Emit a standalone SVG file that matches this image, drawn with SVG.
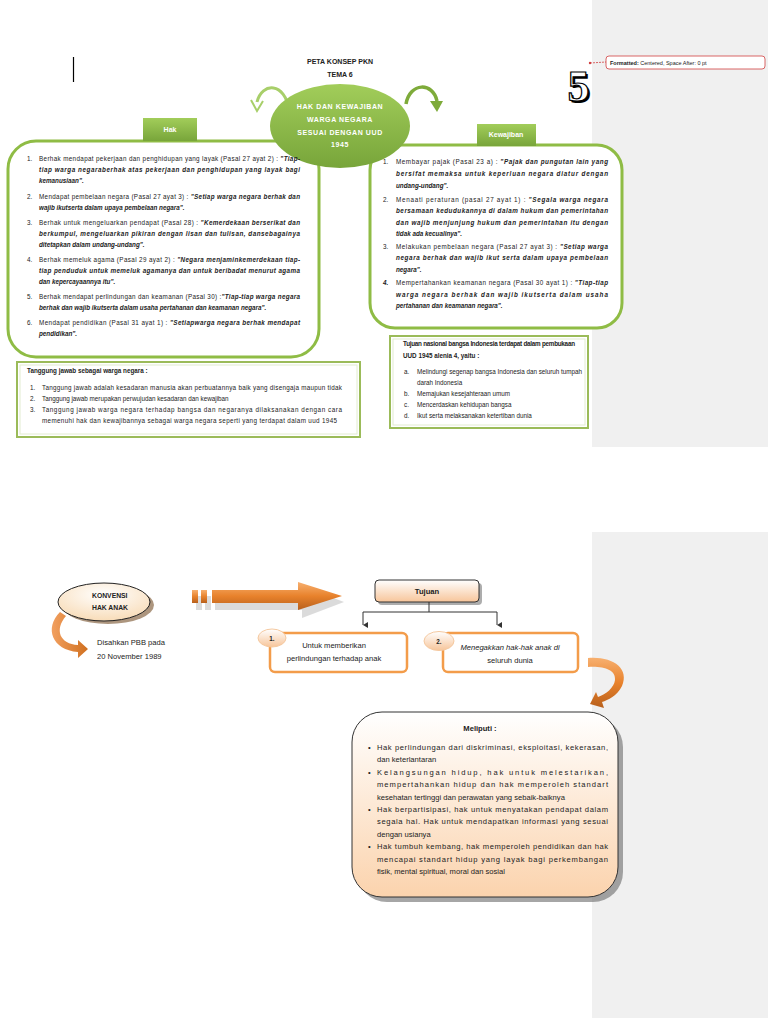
<svg xmlns="http://www.w3.org/2000/svg" width="768" height="1024" viewBox="0 0 768 1024">
<defs>
<style>
text{font-family:"Liberation Sans",Arial,sans-serif;fill:#222}
.t{font-size:6.3px}
.q{font-weight:bold;font-style:italic}
.w{fill:#fff;font-weight:bold}
.h{font-size:7.5px;font-weight:bold}
.m{font-size:7px}
.ml{font-size:7.6px}
.box{fill:#fff;stroke:#8fbc45;stroke-width:3}
.gbox{fill:#fff;stroke:#9bbb59;stroke-width:2}
.obox{fill:#fff;stroke:#f39c4a;stroke-width:2.5}
</style>
<linearGradient id="gg" x1="0" y1="0" x2="0" y2="1"><stop offset="0" stop-color="#a2cd5a"/><stop offset="1" stop-color="#78a53a"/></linearGradient>
<linearGradient id="og" x1="0" y1="0" x2="0" y2="1"><stop offset="0" stop-color="#f7b070"/><stop offset="0.5" stop-color="#e8822c"/><stop offset="1" stop-color="#b8601c"/></linearGradient>
<linearGradient id="oh" x1="0" y1="0" x2="1" y2="0"><stop offset="0" stop-color="#f2a060"/><stop offset="1" stop-color="#d0701f"/></linearGradient>
<linearGradient id="pg" x1="0" y1="0" x2="0" y2="1"><stop offset="0" stop-color="#fff"/><stop offset="1" stop-color="#fbd3ad"/></linearGradient>
<linearGradient id="tg" x1="0" y1="0" x2="0" y2="1"><stop offset="0" stop-color="#fff"/><stop offset="1" stop-color="#f7c59a"/></linearGradient>
<radialGradient id="cg" cx="0.5" cy="0.3" r="0.7"><stop offset="0" stop-color="#fff"/><stop offset="1" stop-color="#f8dcb8"/></radialGradient>
<marker id="ah" markerWidth="6" markerHeight="6" refX="3" refY="5" orient="auto" markerUnits="userSpaceOnUse"><path d="M0,0 L6,0 L3,5 z" fill="#333"/></marker>
</defs>
<rect width="768" height="1024" fill="#fff"/>
<rect x="592" y="0" width="176" height="447" fill="#f0f0f0"/>
<rect x="592" y="532" width="176" height="486" fill="#f0f0f0"/>

<g id="header">
<line x1="73.5" y1="57" x2="73.5" y2="82" stroke="#000" stroke-width="1.2"/>
<text x="340" y="64" class="h" text-anchor="middle" style="font-size:7px">PETA KONSEP PKN</text>
<text x="340" y="77" class="h" text-anchor="middle" style="font-size:7px">TEMA 6</text>
<text x="580.5" y="102.5" text-anchor="middle" style="font-family:'Liberation Serif',serif;font-size:44px;fill:#000;font-weight:bold">5</text>
<text x="578.5" y="100.5" text-anchor="middle" style="font-family:'Liberation Serif',serif;font-size:44px;fill:#fff;stroke:#000;stroke-width:1.2;font-weight:bold">5</text>
</g>

<g id="comment">
<line x1="590" y1="63" x2="606" y2="62" stroke="#d04040" stroke-width="0.8" stroke-dasharray="2,1"/>
<circle cx="590" cy="63" r="1.2" fill="#d04040"/>
<rect x="606" y="56" width="159" height="13" rx="3" fill="#fff" stroke="#d04040" stroke-width="0.8"/>
<text x="610" y="64.5" style="font-size:5.5px"><tspan font-weight="bold">Formatted:</tspan> Centered, Space After:  0 pt</text>
</g>

<g id="curl-arrows">
<path d="M289 110 C285 82, 262 82, 257 102" fill="none" stroke="#a8cf6a" stroke-width="3"/>
<path d="M251 100 L257 111 L263 101" fill="none" stroke="#a8cf6a" stroke-width="2"/>
<path d="M406 104 C410 82, 433 82, 437 101" fill="none" stroke="#7eab3a" stroke-width="3.5"/>
<path d="M430 101 L437 112 L443 101 z" fill="#7eab3a"/>
</g>

<g id="hak-box">
<rect x="8" y="141" width="311" height="216" rx="28" class="box"/>
</g>
<g id="kewajiban-box">
<rect x="370" y="145" width="252" height="183" rx="25" class="box"/>
</g>

<g id="hak-tab">
<rect x="143" y="118" width="54" height="23" fill="url(#gg)"/>
<text x="170" y="132" class="w" text-anchor="middle" style="font-size:7px">Hak</text>
</g>
<g id="kewajiban-tab">
<rect x="477" y="124" width="59" height="22" fill="url(#gg)"/>
<text x="506" y="137" class="w" text-anchor="middle" style="font-size:7px">Kewajiban</text>
</g>

<g id="center-oval">
<ellipse cx="340" cy="126" rx="70" ry="42" fill="url(#gg)"/>
<text x="340" y="109" class="w" text-anchor="middle" style="font-size:7px;letter-spacing:0.6px">HAK DAN KEWAJIBAN</text>
<text x="340" y="122" class="w" text-anchor="middle" style="font-size:7px;letter-spacing:0.6px">WARGA NEGARA</text>
<text x="340" y="135" class="w" text-anchor="middle" style="font-size:7px;letter-spacing:0.6px">SESUAI DENGAN UUD</text>
<text x="340" y="147" class="w" text-anchor="middle" style="font-size:7px;letter-spacing:0.6px">1945</text>
</g>

<g id="hak-text" class="t">
<text x="27" y="161" class="t">1.</text>
<text x="39" y="161" class="t" textLength="261" lengthAdjust="spacing">Berhak mendapat pekerjaan dan penghidupan yang layak (Pasal 27 ayat 2) : <tspan class="q">"Tiap-</tspan></text>
<text x="39" y="172" class="t q" textLength="261" lengthAdjust="spacing">tiap warga negaraberhak atas pekerjaan dan penghidupan yang layak bagi</text>
<text x="39" y="183" class="t q">kemanusiaan".</text>
<text x="27" y="199" class="t">2.</text>
<text x="39" y="199" class="t" textLength="261" lengthAdjust="spacing">Mendapat pembelaan negara (Pasal 27 ayat 3) : <tspan class="q">"Setiap warga negara berhak dan</tspan></text>
<text x="39" y="210" class="t q">wajib ikutserta dalam upaya pembelaan negara".</text>
<text x="27" y="225" class="t">3.</text>
<text x="39" y="225" class="t" textLength="261" lengthAdjust="spacing">Berhak untuk mengeluarkan pendapat (Pasal 28) : <tspan class="q">"Kemerdekaan berserikat dan</tspan></text>
<text x="39" y="236" class="t q" textLength="261" lengthAdjust="spacing">berkumpul, mengeluarkan pikiran dengan lisan dan tulisan, dansebagainya</text>
<text x="39" y="247" class="t q">ditetapkan dalam undang-undang".</text>
<text x="27" y="262" class="t">4.</text>
<text x="39" y="262" class="t" textLength="261" lengthAdjust="spacing">Berhak memeluk agama (Pasal 29 ayat 2) : <tspan class="q">"Negara menjaminkemerdekaan tiap-</tspan></text>
<text x="39" y="273" class="t q" textLength="261" lengthAdjust="spacing">tiap penduduk untuk memeluk agamanya dan untuk beribadat menurut agama</text>
<text x="39" y="284" class="t q">dan kepercayaannya itu".</text>
<text x="27" y="299" class="t">5.</text>
<text x="39" y="299" class="t" textLength="261" lengthAdjust="spacing">Berhak mendapat perlindungan dan keamanan (Pasal 30) :<tspan class="q">"Tiap-tiap warga negara</tspan></text>
<text x="39" y="310" class="t q">berhak dan wajib ikutserta dalam usaha pertahanan dan keamanan negara".</text>
<text x="27" y="325" class="t">6.</text>
<text x="39" y="325" class="t" textLength="261" lengthAdjust="spacing">Mendapat pendidikan (Pasal 31 ayat 1) : <tspan class="q">"Setiapwarga negara berhak mendapat</tspan></text>
<text x="39" y="336" class="t q">pendidikan".</text>
</g>

<g id="kewajiban-text">
<text x="383" y="164" class="t">1.</text>
<text x="396" y="164" class="t" textLength="212" lengthAdjust="spacing">Membayar pajak (Pasal 23 a) : <tspan class="q">"Pajak dan pungutan lain yang</tspan></text>
<text x="396" y="176" class="t q" textLength="212" lengthAdjust="spacing">bersifat memaksa untuk keperluan negara diatur dengan</text>
<text x="396" y="188" class="t q">undang-undang".</text>
<text x="383" y="202" class="t">2.</text>
<text x="396" y="202" class="t" textLength="212" lengthAdjust="spacing">Menaati peraturan (pasal 27 ayat 1) : <tspan class="q">"Segala warga negara</tspan></text>
<text x="396" y="213" class="t q" textLength="212" lengthAdjust="spacing">bersamaan kedudukannya di dalam hukum dan pemerintahan</text>
<text x="396" y="225" class="t q" textLength="212" lengthAdjust="spacing">dan wajib menjunjung hukum dan pemerintahan itu dengan</text>
<text x="396" y="236" class="t q">tidak ada kecualinya".</text>
<text x="383" y="249" class="t">3.</text>
<text x="396" y="249" class="t" textLength="212" lengthAdjust="spacing">Melakukan pembelaan negara (Pasal 27 ayat 3) : <tspan class="q">"Setiap warga</tspan></text>
<text x="396" y="260" class="t q" textLength="212" lengthAdjust="spacing">negara berhak dan wajib ikut serta dalam upaya pembelaan</text>
<text x="396" y="272" class="t q">negara".</text>
<text x="383" y="285" class="t q">4.</text>
<text x="396" y="285" class="t" textLength="212" lengthAdjust="spacing">Mempertahankan keamanan negara (Pasal 30 ayat 1) : <tspan class="q">"Tiap-tiap</tspan></text>
<text x="396" y="297" class="t q" textLength="212" lengthAdjust="spacing">warga negara berhak dan wajib ikutserta dalam usaha</text>
<text x="396" y="308" class="t q">pertahanan dan keamanan negara".</text>
</g>

<g id="tanggung-jawab">
<rect x="17" y="362" width="343" height="75" class="gbox"/>
<rect x="20" y="365" width="337" height="69" fill="none" stroke="#e2ecd0" stroke-width="1"/>
<text x="27" y="373" class="t" font-weight="bold">Tanggung jawab sebagai warga negara :</text>
<text x="30" y="390" class="t">1.</text>
<text x="42" y="390" class="t" textLength="300" lengthAdjust="spacing">Tanggung jawab adalah kesadaran manusia akan perbuatannya baik yang disengaja maupun tidak</text>
<text x="30" y="401" class="t">2.</text>
<text x="42" y="401" class="t">Tanggung jawab merupakan perwujudan kesadaran dan kewajiban</text>
<text x="30" y="412" class="t">3.</text>
<text x="42" y="412" class="t" textLength="300" lengthAdjust="spacing">Tanggung jawab warga negara terhadap bangsa dan negaranya dilaksanakan dengan cara</text>
<text x="42" y="423" class="t" textLength="295" lengthAdjust="spacing">memenuhi hak dan kewajibannya sebagai warga negara seperti yang terdapat dalam uud 1945</text>
</g>

<g id="tujuan-nasional">
<rect x="390" y="336" width="198" height="92" class="gbox"/>
<rect x="393" y="339" width="192" height="86" fill="none" stroke="#e2ecd0" stroke-width="1"/>
<text x="403" y="346" class="t" font-weight="bold" textLength="172" lengthAdjust="spacing">Tujuan nasional bangsa Indonesia terdapat dalam pembukaan</text>
<text x="403" y="358" class="t" font-weight="bold">UUD 1945 alenia 4, yaitu :</text>
<text x="404" y="374" class="t">a.</text>
<text x="417" y="374" class="t" textLength="165" lengthAdjust="spacing">Melindungi segenap bangsa Indonesia dan seluruh tumpah</text>
<text x="417" y="385" class="t">darah Indonesia</text>
<text x="404" y="396" class="t">b.</text>
<text x="417" y="396" class="t">Memajukan kesejahteraan umum</text>
<text x="404" y="407" class="t">c.</text>
<text x="417" y="407" class="t">Mencerdaskan kehidupan bangsa</text>
<text x="404" y="418" class="t">d.</text>
<text x="417" y="418" class="t">Ikut serta melaksanakan ketertiban dunia</text>
</g>

<g id="konvensi">
<ellipse cx="108" cy="605" rx="46" ry="19" fill="#8a6a48" opacity="0.7"/>
<ellipse cx="104" cy="602" rx="46" ry="19" fill="url(#cg)" stroke="#222" stroke-width="1"/>
<text x="92" y="598" class="m" font-weight="bold" style="font-size:6.8px">KONVENSI</text>
<text x="92" y="610" class="m" font-weight="bold" style="font-size:6.8px">HAK ANAK</text>
</g>

<g id="disahkan">
<text x="97" y="645" class="ml">Disahkan PBB pada</text>
<text x="97" y="659" class="ml">20 November 1989</text>
</g>

<g id="tujuan">
<rect x="378" y="583" width="104" height="22" rx="4" fill="#777" opacity="0.6"/>
<rect x="375" y="580" width="104" height="22" rx="4" fill="url(#tg)" stroke="#333" stroke-width="1"/>
<text x="427" y="593.5" class="m" font-weight="bold" text-anchor="middle" style="font-size:7.6px">Tujuan</text>
</g>

<g id="tujuan-1">
<rect x="270" y="633" width="137" height="39" rx="5" class="obox"/>
<ellipse cx="272" cy="638" rx="14" ry="9" fill="url(#tg)" stroke="#f5c9a0" stroke-width="1"/>
<text x="272" y="641" class="t" font-weight="bold" text-anchor="middle">1.</text>
<text x="334" y="648" class="ml" text-anchor="middle">Untuk memberikan</text>
<text x="334" y="661" class="ml" text-anchor="middle">perlindungan terhadap anak</text>
</g>

<g id="tujuan-2">
<rect x="443" y="633" width="135" height="39" rx="5" class="obox"/>
<ellipse cx="439" cy="641" rx="15" ry="9.5" fill="url(#tg)" stroke="#f5c9a0" stroke-width="1"/>
<text x="439" y="644" class="t" font-weight="bold" text-anchor="middle">2.</text>
<text x="510" y="650" class="ml" text-anchor="middle" font-style="italic">Menegakkan hak-hak anak di</text>
<text x="510" y="663" class="ml" text-anchor="middle">seluruh dunia</text>
</g>

<g id="meliputi">
<rect x="357" y="717" width="266" height="185" rx="30" fill="#6a6a6a" opacity="0.6"/>
<rect x="352" y="712" width="266" height="185" rx="30" fill="url(#pg)" stroke="#333" stroke-width="1"/>
<text x="480" y="731" class="ml" font-weight="bold" text-anchor="middle">Meliputi :</text>
<g class="ml">
<text x="368" y="750">•</text>
<text x="377" y="750" class="ml" textLength="231" lengthAdjust="spacing">Hak perlindungan dari diskriminasi, eksploitasi, kekerasan,</text>
<text x="377" y="762" class="ml">dan keterlantaran</text>
<text x="368" y="775">•</text>
<text x="377" y="775" class="ml" textLength="231" lengthAdjust="spacing">Kelangsungan hidup, hak untuk melestarikan,</text>
<text x="377" y="787" class="ml" textLength="231" lengthAdjust="spacing">mempertahankan hidup dan hak memperoleh standart</text>
<text x="377" y="800" class="ml">kesehatan tertinggi dan perawatan yang sebaik-baiknya</text>
<text x="368" y="812">•</text>
<text x="377" y="812" class="ml" textLength="231" lengthAdjust="spacing">Hak berpartisipasi, hak untuk menyatakan pendapat dalam</text>
<text x="377" y="824" class="ml" textLength="231" lengthAdjust="spacing">segala hal. Hak untuk mendapatkan informasi yang sesuai</text>
<text x="377" y="837" class="ml">dengan usianya</text>
<text x="368" y="849">•</text>
<text x="377" y="849" class="ml" textLength="231" lengthAdjust="spacing">Hak tumbuh kembang, hak memperoleh pendidikan dan hak</text>
<text x="377" y="862" class="ml" textLength="231" lengthAdjust="spacing">mencapai standart hidup yang layak bagi perkembangan</text>
<text x="377" y="874" class="ml">fisik, mental spiritual, moral dan sosial</text>
</g>
</g>

<g id="connectors">
<line x1="429" y1="602" x2="429" y2="612" stroke="#333" stroke-width="1"/>
<line x1="363" y1="612" x2="497" y2="612" stroke="#333" stroke-width="1"/>
<line x1="363" y1="612" x2="363" y2="625" stroke="#333" stroke-width="1" marker-end="url(#ah)"/>
<line x1="497" y1="612" x2="497" y2="625" stroke="#333" stroke-width="1" marker-end="url(#ah)"/>
<g>
<path d="M196 594 h6 v14 h-6 z M205 594 h6 v14 h-6 z M215 594 h87 v-10 l42 16 l-42 16 v-8 h-87 z" fill="#999" opacity="0.35" transform="translate(0,2)"/>
<rect x="192" y="590" width="6" height="13" fill="url(#og)"/>
<rect x="201" y="590" width="6" height="13" fill="url(#og)"/>
<path d="M212 590 H298 V582 L342 596 L298 610 V603 H212 Z" fill="url(#og)"/>
</g>
<path d="M60 612 C44 628, 52 650, 78 652 L78 658 L88 649 L78 640 L78 645 C60 644, 54 630, 66 616 Z" fill="url(#oh)"/>
<path d="M588 658 C612 656, 630 668, 622 686 C617 696, 608 700, 602 702 L604 708 L590 704 L596 692 L598 697 C606 694, 614 688, 615 680 C616 670, 604 666, 588 667 Z" fill="url(#og)"/>
</g>
</svg>
